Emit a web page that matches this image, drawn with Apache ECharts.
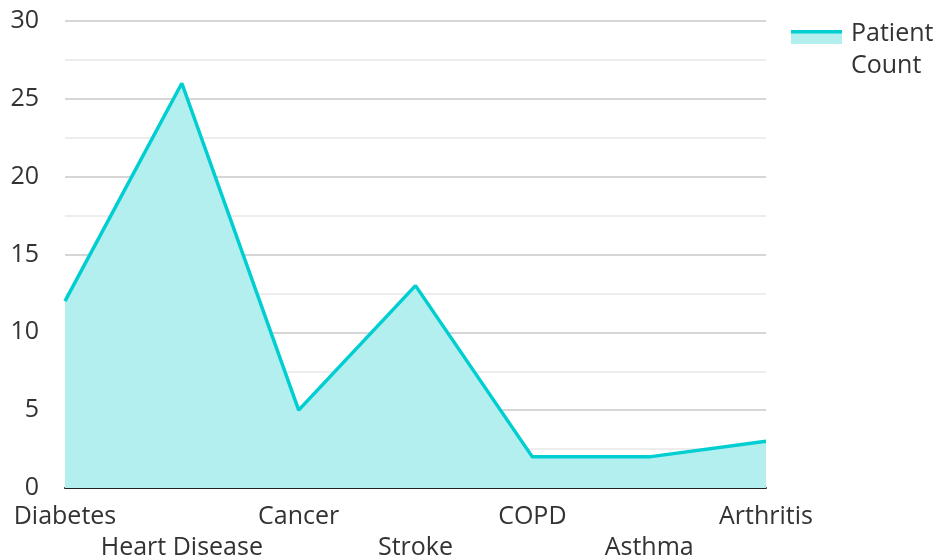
<!DOCTYPE html>
<html><head><meta charset="utf-8">
<script src="https://cdn.jsdelivr.net/npm/echarts@6/dist/echarts.min.js"></script>
<style>html,body{margin:0;padding:0;background:#fff}#c{width:936px;height:560px}</style>
</head><body><div id="c"></div>
<script>
const categories = ['Diabetes','Heart Disease','Cancer','Stroke','COPD','Asthma','Arthritis'];
const patientCount = [12, 26, 5, 13, 2, 2, 3];
const seriesName = 'Patient Count';
const yTicks = [0, 5, 10, 15, 20, 25, 30];

const chart = echarts.init(document.getElementById('c'));
const font = '"Open Sans", "Noto Sans", sans-serif';
chart.setOption({
  animation: false,
  textStyle: { fontFamily: font },
  grid: { left: 65, right: 170, top: 21, bottom: 72, outerBoundsMode: 'none', containLabel: false },
  legend: {
    left: 790, top: 13,
    orient: 'vertical',
    itemWidth: 51, itemHeight: 14, itemGap: 10,
    data: [{ name: seriesName, icon: 'rect', itemStyle: { color: 'rgba(0,0,0,0)' } }],
    formatter: () => 'Patient\nCount',
    textStyle: { fontFamily: font, fontSize: 25, color: '#333', lineHeight: 32 }
  },
  graphic: [
    { type: 'rect', left: 791, top: 33, shape: { width: 51, height: 11 }, style: { fill: '#b2efee' }, z: 100 },
    { type: 'rect', left: 791, top: 30, shape: { width: 51, height: 3.5 }, style: { fill: '#00ced1' }, z: 101 }
  ],
  xAxis: {
    type: 'category', data: categories, boundaryGap: false,
    axisLine: { lineStyle: { color: '#222', width: 2 } },
    axisTick: { show: false },
    axisLabel: {
      interval: 0, margin: 13, fontSize: 25, color: '#333', fontFamily: font, lineHeight: 31,
      formatter: (v, i) => (i % 2 ? '\n' + v : v)
    }
  },
  yAxis: {
    type: 'value', min: yTicks[0], max: yTicks[yTicks.length - 1], interval: 5,
    axisLine: { show: false }, axisTick: { show: false },
    axisLabel: { margin: 26, fontSize: 25, color: '#333', fontFamily: font },
    splitLine: { lineStyle: { color: '#c8c8c8', width: 1.5 } },
    minorTick: { show: false, splitNumber: 2 },
    minorSplitLine: { show: true, lineStyle: { color: '#e8e8e8', width: 1.5 } }
  },
  series: [{
    name: seriesName, type: 'line', data: patientCount,
    symbol: 'none',
    lineStyle: { color: '#00ced1', width: 3.5 },
    itemStyle: { color: '#00ced1' },
    areaStyle: { color: '#b2efee', opacity: 1 }
  }]
});
</script></body></html>
